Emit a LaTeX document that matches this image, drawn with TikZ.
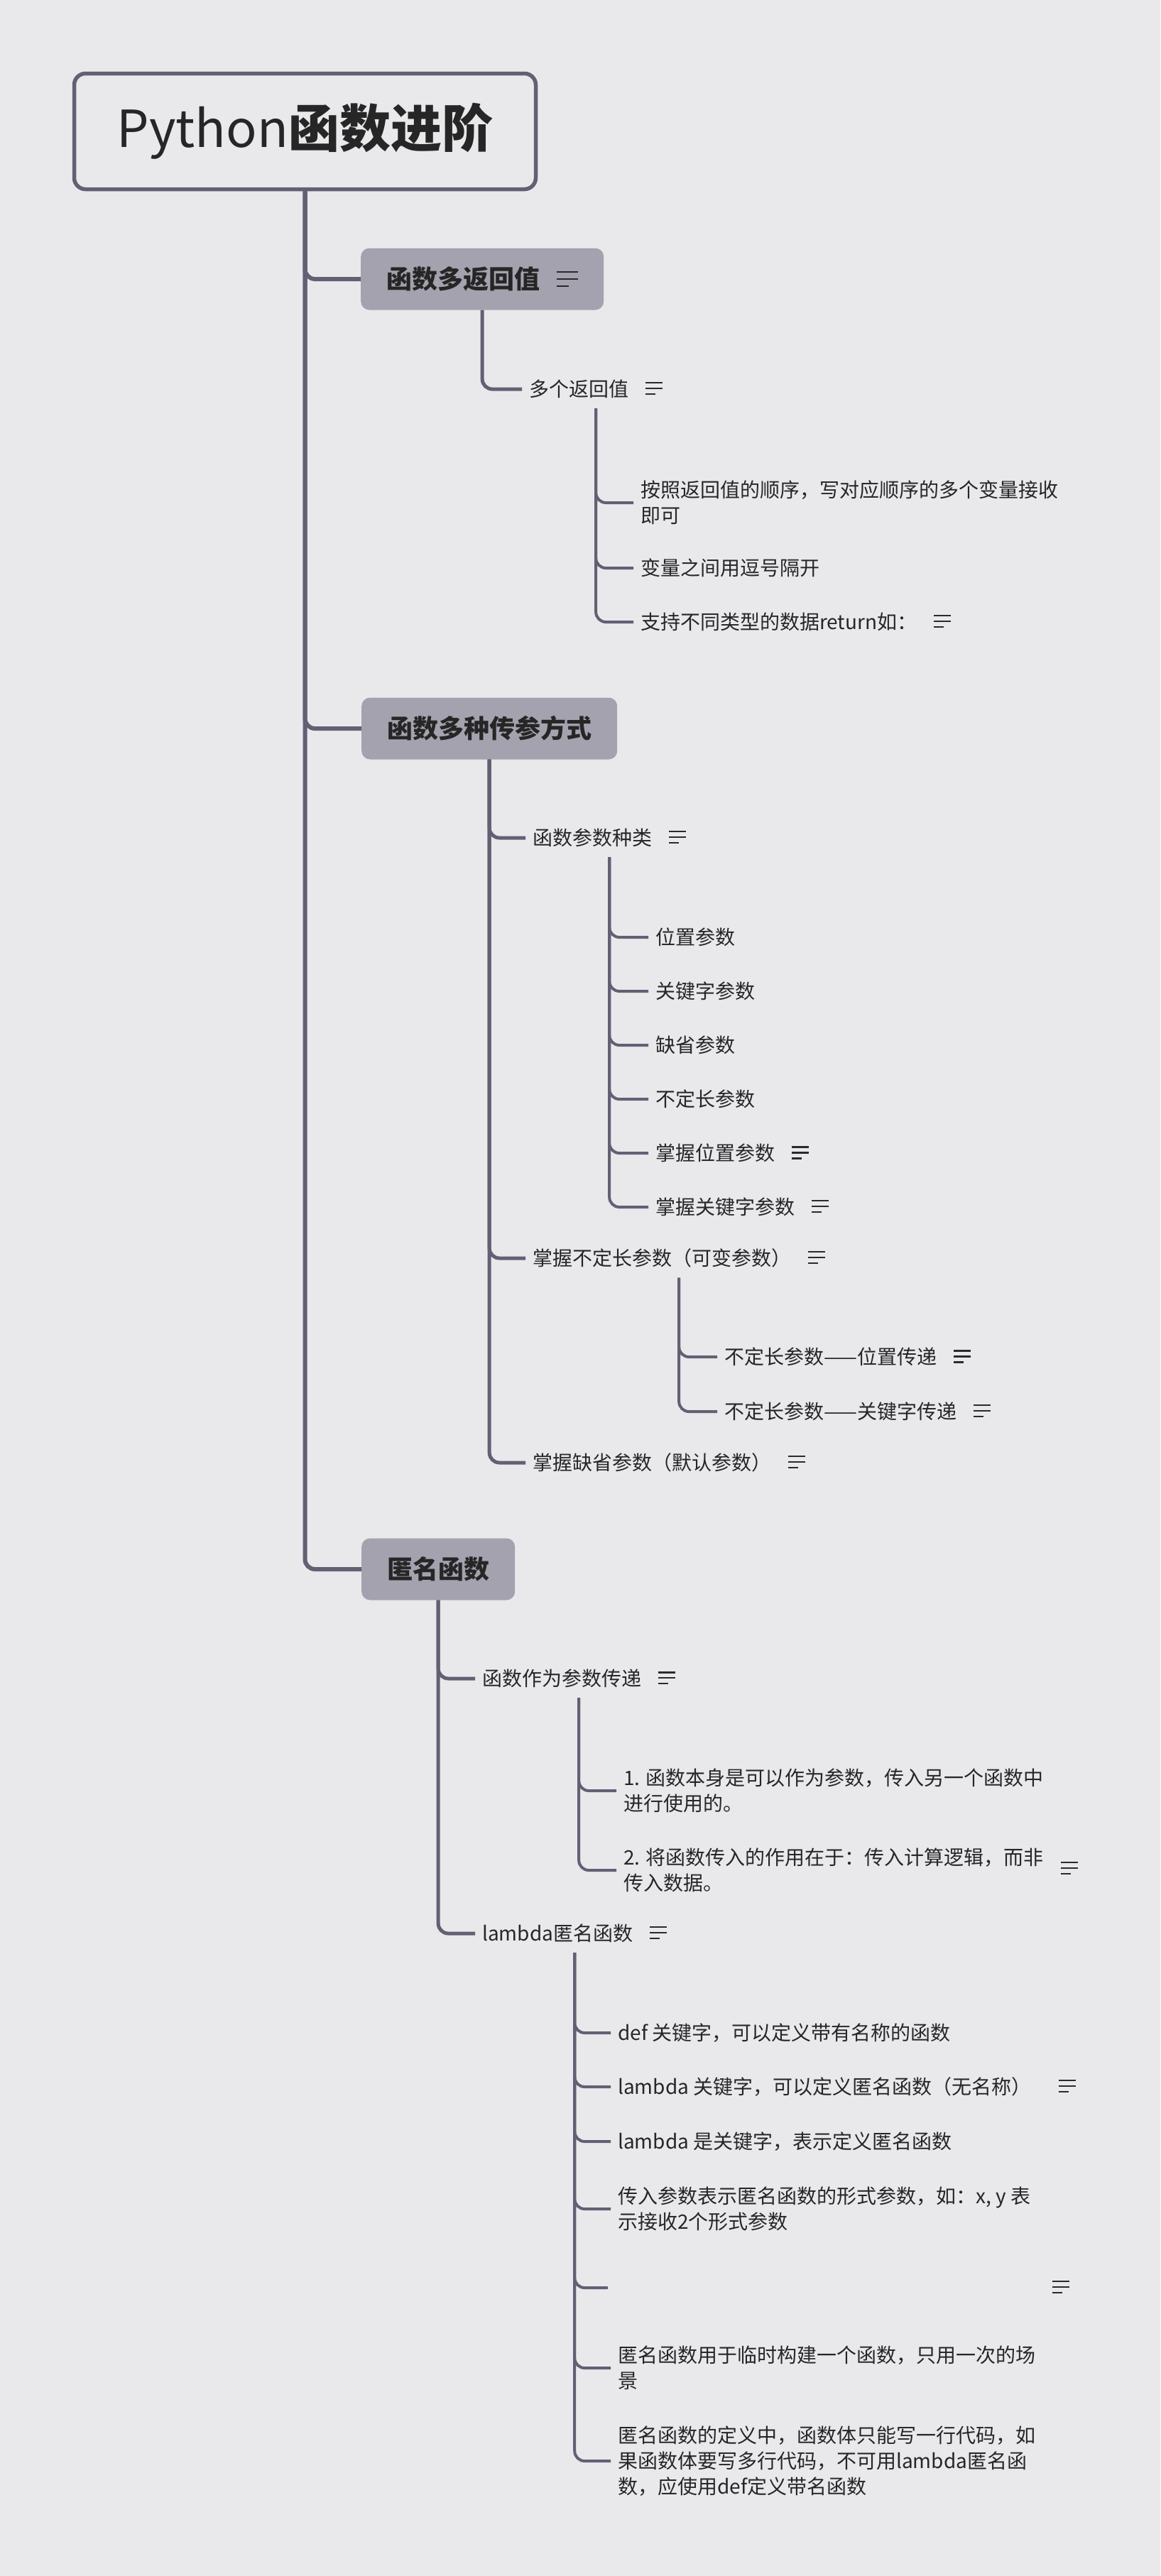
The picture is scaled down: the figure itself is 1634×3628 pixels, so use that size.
\documentclass[tikz,border=0pt]{standalone}
\usepackage{fontspec}
\setmainfont{Noto Sans CJK SC}
\usetikzlibrary{calc}
\definecolor{bgc}{HTML}{E9E9EC}
\definecolor{lnc}{HTML}{626073}
\definecolor{bxc}{HTML}{A3A2AE}
\definecolor{txc}{HTML}{262626}
\definecolor{icc}{HTML}{2A2A2A}
\newcommand\smallnote{{\color{icc}\raisebox{2.2pt}{\vbox{\hrule width 24pt height 2.2pt\vskip 5.8pt\hrule width 24pt height 2.2pt\vskip 5.8pt\hrule width 14pt height 2.2pt}}}}
\newcommand\bignote{{\color{icc}\raisebox{2.4pt}{\vbox{\hrule width 30pt height 2.6pt\vskip 7.4pt\hrule width 30pt height 2.6pt\vskip 7.4pt\hrule width 17pt height 2.6pt}}}}
\tikzset{
  rootbox/.style={draw=lnc, line width=5.5pt, rounded corners=16pt, fill=bgc,
    minimum width=650pt, minimum height=163pt, inner sep=0pt,
    font=\fontsize{72}{80}\selectfont\bfseries, text=txc},
  topicbox/.style={fill=bxc, rounded corners=12pt, minimum height=87pt,
    inner xsep=36pt, inner ysep=0pt, anchor=west,
    font=\fontsize{36}{40}\selectfont\bfseries, text=txc},
  leaf/.style={anchor=west, inner xsep=10pt, inner ysep=14pt,
    font=\fontsize{28}{36}\selectfont, text=txc},
  leafm/.style={leaf, align=left},
  iconnode/.style={inner sep=0pt},
  conA/.style={draw=lnc, line width=6pt, rounded corners=14pt},
  conB/.style={draw=lnc, line width=5pt, rounded corners=14pt},
  conC/.style={draw=lnc, line width=4pt, rounded corners=14pt},
}
\begin{document}
\begin{tikzpicture}[x=1pt,y=-1pt]
\fill[bgc] (0,0) rectangle (1634,3628);
\useasboundingbox (0,0) rectangle (1634,3628);

% root
\node[rootbox] (root) at (429.5,185) {{\mdseries Python}函数进阶};

% main topics
\node[topicbox] (b1) at (508,393) {函数多返回值\hspace{24pt}\bignote};
\node[topicbox] (b2) at (509,1026) {函数多种传参方式};
\node[topicbox] (b3) at (509,2210) {匿名函数};

% branch 1
\node[leaf] (n11) at (735,548) {多个返回值\hspace{24pt}\smallnote};
\node[leafm] (n111) at (892,708) {按照返回值的顺序，写对应顺序的多个变量接收\\即可};
\node[leaf] (n112) at (892,800) {变量之间用逗号隔开};
\node[leaf] (n113) at (892,876) {支持不同类型的数据return如：\hspace{24pt}\smallnote};

% branch 2
\node[leaf] (n21) at (740,1180) {函数参数种类\hspace{24pt}\smallnote};
\node[leaf] (n211) at (913,1320) {位置参数};
\node[leaf] (n212) at (913,1396) {关键字参数};
\node[leaf] (n213) at (913,1472) {缺省参数};
\node[leaf] (n214) at (913,1548) {不定长参数};
\node[leaf] (n215) at (913,1624) {掌握位置参数\hspace{24pt}\smallnote};
\node[leaf] (n216) at (913,1700) {掌握关键字参数\hspace{24pt}\smallnote};
\node[leaf] (n22) at (740,1772) {掌握不定长参数（可变参数）\hspace{24pt}\smallnote};
\node[leaf] (n221) at (1010,1911) {不定长参数——位置传递\hspace{24pt}\smallnote};
\node[leaf] (n222) at (1010,1988) {不定长参数——关键字传递\hspace{24pt}\smallnote};
\node[leaf] (n23) at (740,2060) {掌握缺省参数（默认参数）\hspace{24pt}\smallnote};

% branch 3
\node[leaf] (n31) at (669,2364) {函数作为参数传递\hspace{24pt}\smallnote};
\node[leafm] (n311) at (868,2522) {1. 函数本身是可以作为参数，传入另一个函数中\\进行使用的。};
\node[leafm] (n312) at (868,2634) {2. 将函数传入的作用在于：传入计算逻辑，而非\\传入数据。};
\node[iconnode] (i312) at (1506,2632) {\smallnote};
\node[leaf] (n32) at (669,2723) {lambda匿名函数\hspace{24pt}\smallnote};
\node[leaf] (n321) at (860,2863) {def 关键字，可以定义带有名称的函数};
\node[leaf] (n322) at (860,2939) {lambda 关键字，可以定义匿名函数（无名称）\hspace{38pt}\smallnote};
\node[leaf] (n323) at (860,3016) {lambda 是关键字，表示定义匿名函数};
\node[leafm] (n324) at (860,3111) {传入参数表示匿名函数的形式参数，如：x, y 表\\示接收2个形式参数};
\node[leaf] (n325) at (856,3222) {\hspace*{616pt}\smallnote};
\node[leafm] (n326) at (860,3335) {匿名函数用于临时构建一个函数，只用一次的场\\景};
\node[leafm] (n327) at (860,3466) {匿名函数的定义中，函数体只能写一行代码，如\\果函数体要写多行代码，不可用lambda匿名函\\数，应使用def定义带名函数};

% connectors: trunk
\foreach \c in {b1,b2,b3} \draw[conA] (root.south) |- (\c.west);
% level 1 -> 2
\draw[conB] (b1.south) |- (n11.west);
\foreach \c in {n21,n22,n23} \draw[conB] (b2.south) |- (\c.west);
\foreach \c in {n31,n32} \draw[conB] (b3.south) |- (\c.west);
% level 2 -> 3
\foreach \c in {n111,n112,n113} \draw[conC] (n11.south) |- (\c.west);
\foreach \c in {n211,n212,n213,n214,n215,n216} \draw[conC] (n21.south) |- (\c.west);
\foreach \c in {n221,n222} \draw[conC] (n22.south) |- (\c.west);
\foreach \c in {n311,n312} \draw[conC] (n31.south) |- (\c.west);
\foreach \c in {n321,n322,n323,n324,n325,n326,n327} \draw[conC] (n32.south) |- (\c.west);
\end{tikzpicture}
\end{document}
